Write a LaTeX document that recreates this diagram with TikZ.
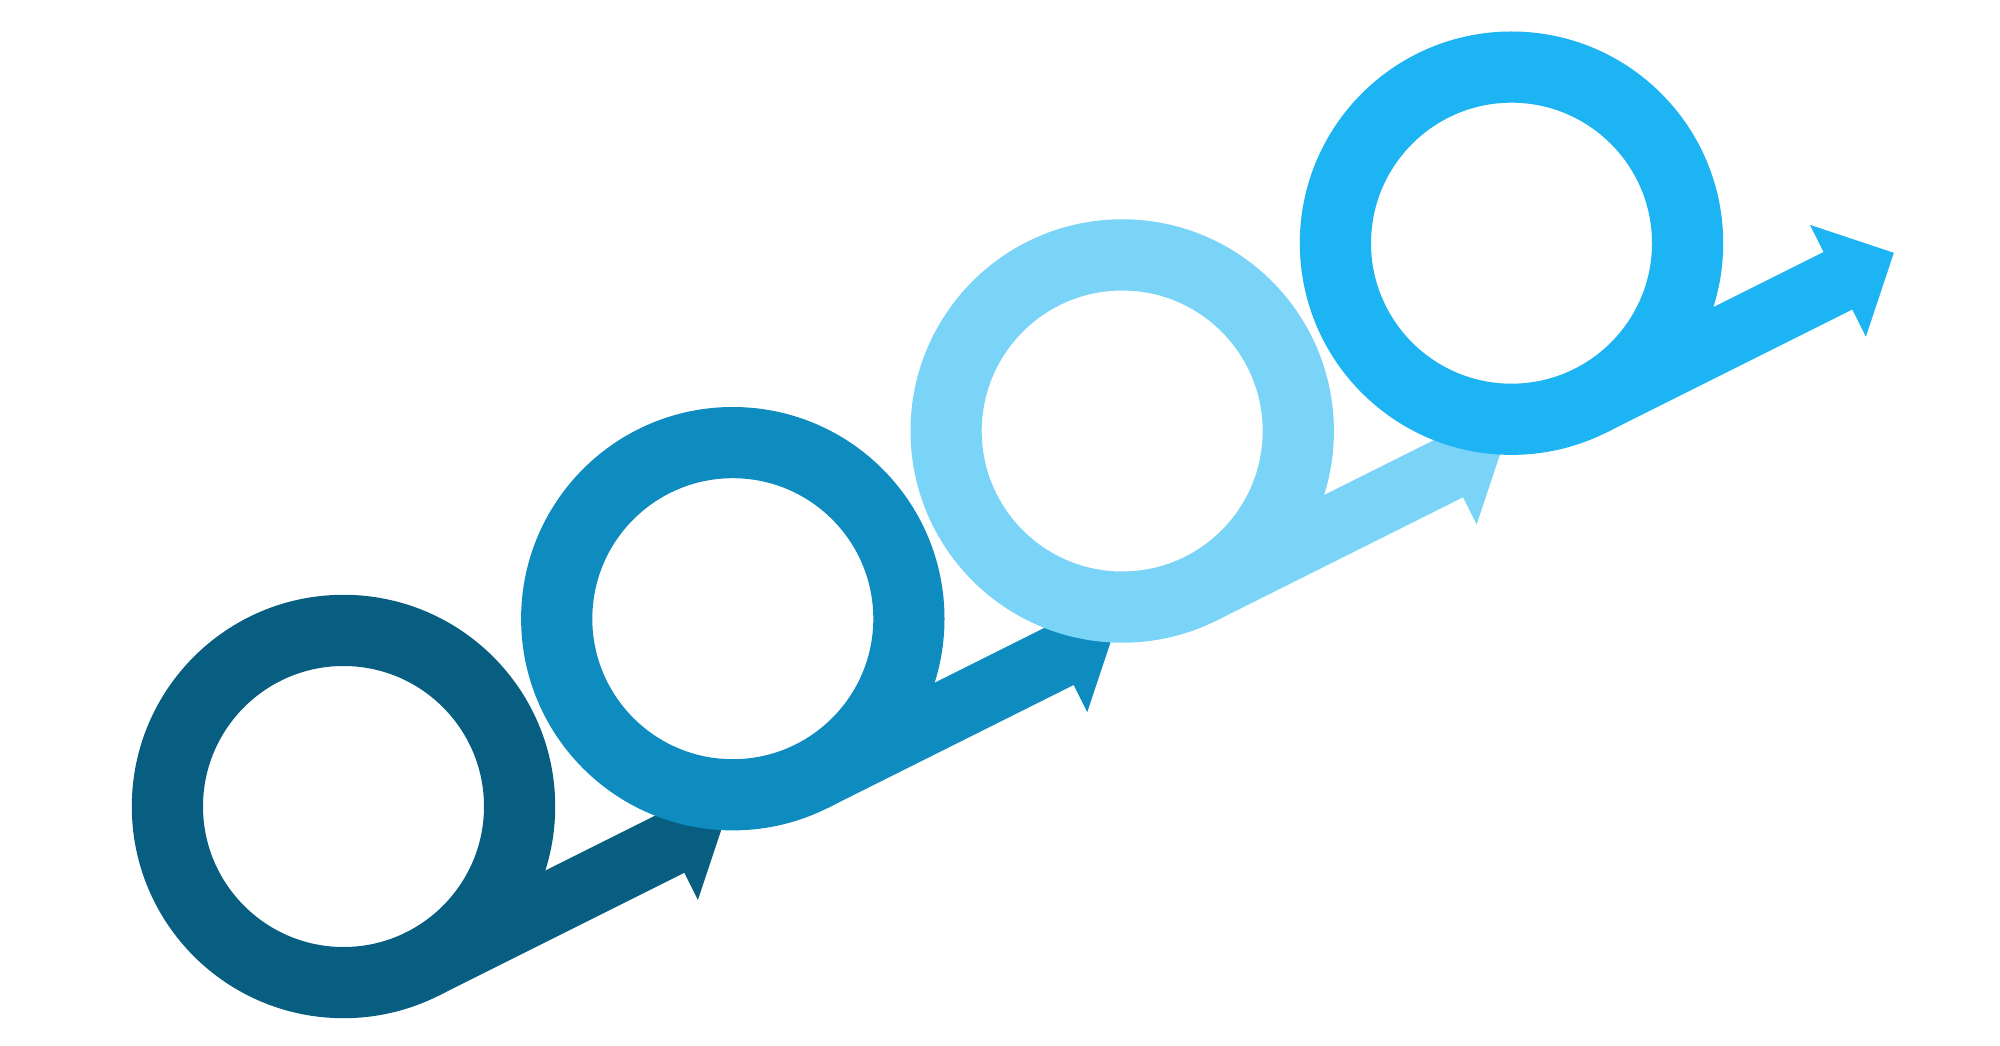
\documentclass[tikz,border=0pt]{standalone}
\usepackage{tikz}
\definecolor{cA}{HTML}{085E80}
\definecolor{cB}{HTML}{0E8CC0}
\definecolor{cC}{HTML}{7AD4F8}
\definecolor{cD}{HTML}{1CB4F2}
\tikzset{
  ringline/.style={line width=71.2pt},
  qshape/.pic={
    \draw[ringline,draw=#1] (0,0) circle (176.1);
    \fill[#1,rotate=26.565] (0,-147.5) -- (275.2,-147.5) -- (275.2,-117.1) -- (337.7,-179.6)
      -- (275.2,-242.1) -- (275.2,-211.7) -- (0,-211.7) -- cycle;
  }
}
\begin{document}
\begin{tikzpicture}[x=1pt,y=1pt]
\fill[white] (0,0) rectangle (2000,1045);
\useasboundingbox (0,0) rectangle (2000,1045);
\coordinate (c1) at (343.5,238.5);
\coordinate (c2) at (732.8,426.3);
\coordinate (c3) at (1122.2,614.0);
\coordinate (c4) at (1511.5,801.8);
\pic at (c1) {qshape=cA};
\pic at (c2) {qshape=cB};
\pic at (c3) {qshape=cC};
\pic at (c4) {qshape=cD};
\end{tikzpicture}
\end{document}
